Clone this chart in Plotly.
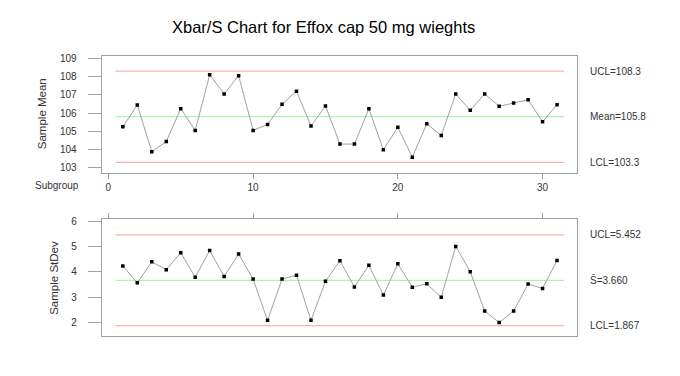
import plotly.graph_objects as go

W, H = 680, 376

subgroups = list(range(1, 32))
sample_means = [105.25, 106.44, 103.88, 104.44, 106.24, 105.05, 108.10, 107.05, 108.05, 105.05,
                105.38, 106.48, 107.20, 105.29, 106.39, 104.30, 104.30, 106.24, 103.99, 105.22,
                103.58, 105.41, 104.77, 107.05, 106.15, 107.05, 106.37, 106.55, 106.73, 105.52,
                106.46]
sample_sds = [4.23, 3.56, 4.39, 4.08, 4.75, 3.78, 4.84, 3.81, 4.70, 3.71,
              2.08, 3.71, 3.86, 2.08, 3.62, 4.43, 3.40, 4.25, 3.08, 4.31,
              3.39, 3.52, 2.99, 5.00, 4.00, 2.45, 1.99, 2.45, 3.51, 3.34,
              4.44]
xbar_limits = {"UCL": 108.3, "Mean": 105.8, "LCL": 103.3}
s_limits = {"UCL": 5.452, "S": 3.660, "LCL": 1.867}
xbar_labels = ["UCL=108.3", "Mean=105.8", "LCL=103.3"]
s_labels = ["UCL=5.452", "S\u0304=3.660", "LCL=1.867"]
x_ticks = [0, 10, 20, 30]
title = "Xbar/S Chart for Effox cap 50 mg wieghts"

FONT = "Liberation Sans, Arial, sans-serif"
TXT = "#333333"
AX = "#a0a0a0"
RED = "#ff9d9d"
GREEN = "#a0f0a0"

def px(x):
    return x / W

def py(y):
    return 1 - y / H

fig = go.Figure()

x0, x1 = subgroups[0] - 0.5, subgroups[-1] + 0.5

# Xbar chart
for key, col in [("UCL", RED), ("Mean", GREEN), ("LCL", RED)]:
    v = xbar_limits[key]
    fig.add_trace(go.Scatter(x=[x0, x1], y=[v, v], mode="lines",
                             line=dict(color=col, width=1), xaxis="x", yaxis="y",
                             hoverinfo="skip", showlegend=False))
fig.add_trace(go.Scatter(x=subgroups, y=sample_means, mode="lines+markers",
                         line=dict(color="#a0a0a0", width=1),
                         marker=dict(symbol="square", size=3.5, color="black"),
                         xaxis="x", yaxis="y", showlegend=False))

# S chart
for key, col in [("UCL", RED), ("S", GREEN), ("LCL", RED)]:
    v = s_limits[key]
    fig.add_trace(go.Scatter(x=[x0, x1], y=[v, v], mode="lines",
                             line=dict(color=col, width=1), xaxis="x2", yaxis="y2",
                             hoverinfo="skip", showlegend=False))
fig.add_trace(go.Scatter(x=subgroups, y=sample_sds, mode="lines+markers",
                         line=dict(color="#a0a0a0", width=1),
                         marker=dict(symbol="square", size=3.5, color="black"),
                         xaxis="x2", yaxis="y2", showlegend=False))

xdom = [px(101.7), px(577.3)]
common_axis = dict(showline=True, mirror=True, linecolor=AX, linewidth=1,
                   ticks="outside", tickcolor=AX, tickwidth=1,
                   showgrid=False, zeroline=False,
                   tickfont=dict(family=FONT, size=10, color=TXT))

fig.update_layout(
    width=W, height=H,
    margin=dict(l=0, r=0, t=0, b=0),
    paper_bgcolor="white", plot_bgcolor="white",
    font=dict(family=FONT, color=TXT),
    xaxis=dict(common_axis, domain=xdom, range=[-0.46, 32.4], anchor="y",
               tickvals=x_ticks, ticklen=5),
    yaxis=dict(common_axis, domain=[py(171), py(52.3)], range=[102.73, 109.15],
               anchor="x", tickvals=list(range(103, 110)), ticklen=13,
               ticklabelstandoff=9),
    xaxis2=dict(common_axis, domain=xdom, range=[-0.46, 32.4], anchor="y2",
                side="top", tickvals=x_ticks, ticklen=5, showticklabels=False),
    yaxis2=dict(common_axis, domain=[py(336), py(218.3)], range=[1.48, 6.065],
                anchor="x2", tickvals=[2, 3, 4, 5, 6], ticklen=13,
                ticklabelstandoff=9),
)

ann = []
ann.append(dict(text=title, x=px(323), y=py(23), xref="paper", yref="paper",
                showarrow=False, xanchor="center", yanchor="middle",
                font=dict(family=FONT, size=16.5, color="black")))
ann.append(dict(text="Sample Mean", x=px(42), y=py(111.7), xref="paper", yref="paper",
                textangle=-90, showarrow=False, xanchor="center", yanchor="middle",
                font=dict(family=FONT, size=11.5, color=TXT)))
ann.append(dict(text="Sample StDev", x=px(54), y=py(277.5), xref="paper", yref="paper",
                textangle=-90, showarrow=False, xanchor="center", yanchor="middle",
                font=dict(family=FONT, size=11.5, color=TXT)))
ann.append(dict(text="Subgroup", x=px(81), y=py(184.3), xref="paper", yref="paper",
                showarrow=False, xanchor="right", yanchor="middle",
                font=dict(family=FONT, size=10, color=TXT)))
for lab, key in zip(xbar_labels, ["UCL", "Mean", "LCL"]):
    ann.append(dict(text=lab, x=px(587.5), y=xbar_limits[key], xref="paper", yref="y",
                    showarrow=False, xanchor="left", yanchor="middle",
                    font=dict(family=FONT, size=10, color=TXT)))
for lab, key in zip(s_labels, ["UCL", "S", "LCL"]):
    ann.append(dict(text=lab, x=px(587.5), y=s_limits[key], xref="paper", yref="y2",
                    showarrow=False, xanchor="left", yanchor="middle",
                    font=dict(family=FONT, size=10, color=TXT)))
fig.update_layout(annotations=ann)

fig.write_html("out.html",
               config={"displayModeBar": False},
               post_script="document.body.style.margin='0';document.body.style.padding='0';")
